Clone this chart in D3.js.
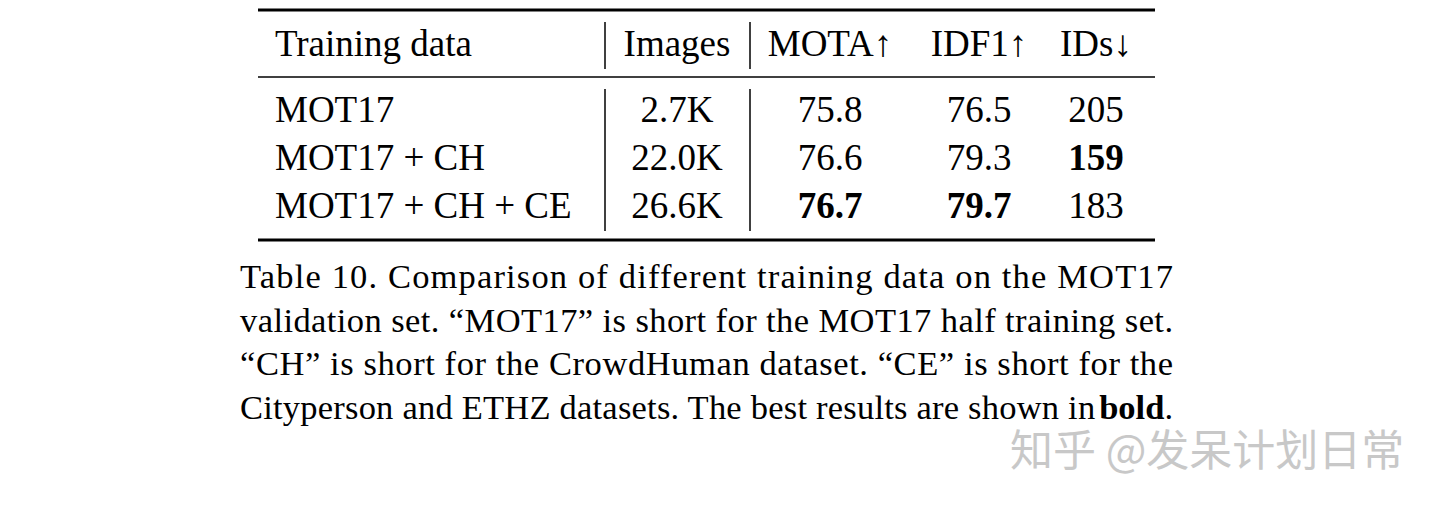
<!DOCTYPE html><html><head><meta charset="utf-8">
<script src="https://cdn.jsdelivr.net/npm/d3@7"></script>
<style>body{margin:0;background:#fff}</style></head><body>
<svg id="c" width="1440" height="510"></svg>
<script>
const headers=["Training data","Images","MOTA↑","IDF1↑","IDs↓"];
const categories=["MOT17","MOT17 + CH","MOT17 + CH + CE"];
const images=["2.7K","22.0K","26.6K"];
const mota=[75.8,76.6,76.7];
const idf1=[76.5,79.3,79.7];
const ids=[205,159,183];
const bestMota=76.7,bestIdf1=79.7,bestIds=159;
const caption=[
 "Table 10.  Comparison of different training data on the MOT17",
 "validation set. “MOT17” is short for the MOT17 half training set.",
 "“CH” is short for the CrowdHuman dataset. “CE” is short for the",
 "Cityperson and ETHZ datasets. The best results are shown in "
];
const svg=d3.select("#c"),F="Liberation Serif, Times New Roman, serif";
const x=d3.scaleOrdinal().domain(headers).range([275,677,830,979,1096]);
const y=d3.scaleBand().domain(categories).range([85,229]);
svg.append("line").attr("x1",258).attr("x2",1155).attr("y1",10).attr("y2",10).attr("stroke","#000").attr("stroke-width",3);
svg.append("line").attr("x1",258).attr("x2",1155).attr("y1",77).attr("y2",77).attr("stroke","#000").attr("stroke-width",1.5);
svg.append("line").attr("x1",258).attr("x2",1155).attr("y1",240).attr("y2",240).attr("stroke","#000").attr("stroke-width",3);
[605,750].forEach(v=>{[[22,69],[89,231]].forEach(([a,b])=>svg.append("line").attr("x1",v).attr("x2",v).attr("y1",a).attr("y2",b).attr("stroke","#000").attr("stroke-width",1.5));});
svg.selectAll(".h").data(headers).join("text").attr("x",d=>x(d)).attr("y",56)
 .attr("text-anchor",(d,i)=>i?"middle":"start").attr("font-family",F).attr("font-size",37).text(d=>d);
categories.forEach((c,i)=>{
 const yy=y(c)+y.bandwidth()/2+13;
 const cells=[[c,0],[images[i],0],[mota[i].toFixed(1),mota[i]===bestMota],[idf1[i].toFixed(1),idf1[i]===bestIdf1],[ids[i],ids[i]===bestIds]];
 cells.forEach(([t,b],j)=>svg.append("text").attr("x",x(headers[j])).attr("y",yy).attr("text-anchor",j?"middle":"start")
  .attr("font-family",F).attr("font-size",37).attr("font-weight",b?"bold":"normal").text(t));
});
const cs=34.5;
caption.forEach((s,i)=>{
 const yy=288+i*43.5;
 if(i<3){svg.append("text").attr("x",240).attr("y",yy).attr("font-family",F).attr("font-size",cs)
  .attr("textLength",933).attr("lengthAdjust","spacing").text(s);}
 else{
  const end=svg.append("text").attr("x",1173).attr("y",yy).attr("text-anchor","end").attr("font-family",F).attr("font-size",cs);
  end.append("tspan").attr("font-weight","bold").text("bold");end.append("tspan").text(".");
  const w=end.node().getComputedTextLength();
  svg.append("text").attr("x",240).attr("y",yy).attr("font-family",F).attr("font-size",cs)
   .attr("textLength",933-w-4).attr("lengthAdjust","spacing").text(s.trim());
 }
});
svg.append("text").attr("x",1010).attr("y",466).attr("font-family","Noto Sans CJK SC").attr("font-size",43).attr("fill","#c8c8c8").text("知乎 @发呆计划日常");
</script></body></html>
